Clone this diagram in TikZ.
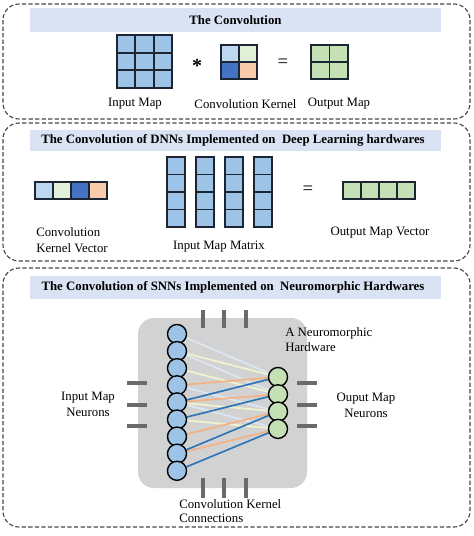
\documentclass[tikz,border=0pt]{standalone}
\usepackage{fontspec}
\setmainfont{Liberation Serif}
\definecolor{barc}{HTML}{DAE3F3}
\definecolor{inblue}{HTML}{9DC3E6}
\definecolor{ka}{HTML}{BDD7EE}
\definecolor{kb}{HTML}{E2F0D9}
\definecolor{kc}{HTML}{4472C4}
\definecolor{kd}{HTML}{F8CBAD}
\definecolor{outg}{HTML}{C5E0B4}
\definecolor{gridc}{HTML}{1C2633}
\definecolor{chipc}{HTML}{D2D2D2}
\definecolor{pinc}{HTML}{6A6A6A}
\definecolor{ldb}{HTML}{2E75B6}
\definecolor{lor}{HTML}{F4B183}
\definecolor{lgr}{HTML}{F2F4D0}
\definecolor{llb}{HTML}{DCE7F3}
\pgfdeclarelayer{bg}
\pgfdeclarelayer{edges}
\pgfsetlayers{bg,edges,main}
\begin{document}
\begin{tikzpicture}[x=0.75pt,y=-0.75pt,
  panel/.style={draw=black!72, dash pattern=on 3.2pt off 1.7pt, line width=0.85pt, rounded corners=12pt},
  ttl/.style={font=\fontsize{9.6}{11}\selectfont\bfseries, inner sep=0pt},
  lbl/.style={font=\fontsize{9.6}{11.5}\selectfont, inner sep=0pt},
  cell/.style={draw=gridc, line width=1.3pt},
  pin/.style={draw=pinc, line width=2.8pt},
  neuron/.style={circle, draw=black, line width=1.05pt, minimum size=14.3pt, inner sep=0pt},
  conn/.style={line width=1.25pt}
]
\useasboundingbox (0,0) rectangle (474,536);

% ---------- Panel 1 ----------
\draw[panel] (3,4) rectangle (470,119);
\fill[barc] (30,8) rectangle (441,32);
\node[ttl] (t1) at (235.5,20) {The Convolution};
\foreach \i in {0,1,2} \foreach \j in {0,1,2}
  \draw[cell, fill=inblue] ({117+18.33*\i},{35+17.67*\j}) rectangle ++(18.33,17.67);
\draw[gridc, line width=1.7pt] (117,35) rectangle (172,88);
\draw[cell, fill=ka] (221,45) rectangle (239,62);
\draw[cell, fill=kb] (239,45) rectangle (257,62);
\draw[cell, fill=kc] (221,62) rectangle (239,79);
\draw[cell, fill=kd] (239,62) rectangle (257,79);
\foreach \i in {0,1} \foreach \j in {0,1}
  \draw[cell, fill=outg] ({311+18.5*\i},{45+17*\j}) rectangle ++(18.5,17);
\node[font=\fontsize{15}{15}\selectfont\bfseries, inner sep=0pt] (star) at (197,66) {*};
\node[font=\fontsize{14}{14}\selectfont, inner sep=0pt] (eqa) at (283,63) {=};
\node[lbl] (la) at (135,104) {Input Map};
\node[lbl] (lb) at (245.5,104) {Convolution Kernel};
\node[lbl] (lc) at (339,104) {Output Map};

% ---------- Panel 2 ----------
\draw[panel] (3,123) rectangle (470,261);
\fill[barc] (30,130) rectangle (441,151);
\node[ttl] (t2) at (233,140.5) {The Convolution of DNNs Implemented on\ \ Deep Learning hardwares};
\draw[cell, fill=ka] (35,182) rectangle (53,199);
\draw[cell, fill=kb] (53,182) rectangle (71,199);
\draw[cell, fill=kc] (71,182) rectangle (89,199);
\draw[cell, fill=kd] (89,182) rectangle (107,199);
\foreach \x in {167,196,225,254} \foreach \j in {0,1,2,3}
  \draw[cell, fill=inblue] (\x,{157+17.5*\j}) rectangle ++(18,17.5);
\node[font=\fontsize{14}{14}\selectfont, inner sep=0pt] (eqb) at (308,190) {=};
\foreach \i in {0,1,2,3}
  \draw[cell, fill=outg] ({343+18*\i},182) rectangle ++(18,17);
\node[lbl, anchor=west, align=left, font=\fontsize{9.6}{12}\selectfont] (ld) at (36,240) {Convolution\\Kernel Vector};
\node[lbl] (le) at (219,247) {Input Map Matrix};
\node[lbl] (lf) at (380,233) {Output Map Vector};

% ---------- Panel 3 ----------
\draw[panel] (3,268) rectangle (470,527);
\fill[barc] (30,276) rectangle (441,299);
\node[ttl] (t3) at (233,287.5) {The Convolution of SNNs Implemented on\ \ Neuromorphic Hardwares};
\begin{pgfonlayer}{bg}
\fill[chipc, rounded corners=12pt] (138,318) rectangle (307,488);
\end{pgfonlayer}
\foreach \x in {203,224,246} {
  \draw[pin] (\x,310) -- (\x,328);
  \draw[pin] (\x,478) -- (\x,498);
}
\foreach \y in {383,405,426} {
  \draw[pin] (127,\y) -- (147,\y);
  \draw[pin] (297,\y) -- (317,\y);
}
\foreach \i in {1,...,9}
  \node[neuron, fill=inblue] (in\i) at (177,{334+17.1*(\i-1)}) {};
\foreach \j in {1,...,4}
  \node[neuron, fill=outg] (out\j) at (278,{377+17.3*(\j-1)}) {};
\begin{pgfonlayer}{edges}
\draw[conn, llb] (in1) -- (out1) (in2) -- (out2) (in4) -- (out3) (in5) -- (out4);
\draw[conn, lgr] (in2) -- (out1) (in3) -- (out2) (in5) -- (out3) (in6) -- (out4);
\draw[conn, lor] (in4) -- (out1) (in5) -- (out2) (in7) -- (out3) (in8) -- (out4);
\draw[conn, ldb] (in5) -- (out1) (in6) -- (out2) (in8) -- (out3) (in9) -- (out4);
\end{pgfonlayer}
\node[lbl, anchor=west, align=left, font=\fontsize{9.6}{11.25}\selectfont] (lg) at (285,339.5) {A Neuromorphic\\Hardware};
\node[lbl, align=center, font=\fontsize{9.6}{12}\selectfont] (lh) at (88,404) {Input Map\\Neurons};
\node[lbl, align=center, font=\fontsize{9.6}{12}\selectfont] (li) at (366,405) {Ouput Map\\Neurons};
\node[lbl, anchor=west, align=left, font=\fontsize{9.6}{10.5}\selectfont] (lj) at (179,511) {Convolution Kernel\\Connections};
\end{tikzpicture}
\end{document}
